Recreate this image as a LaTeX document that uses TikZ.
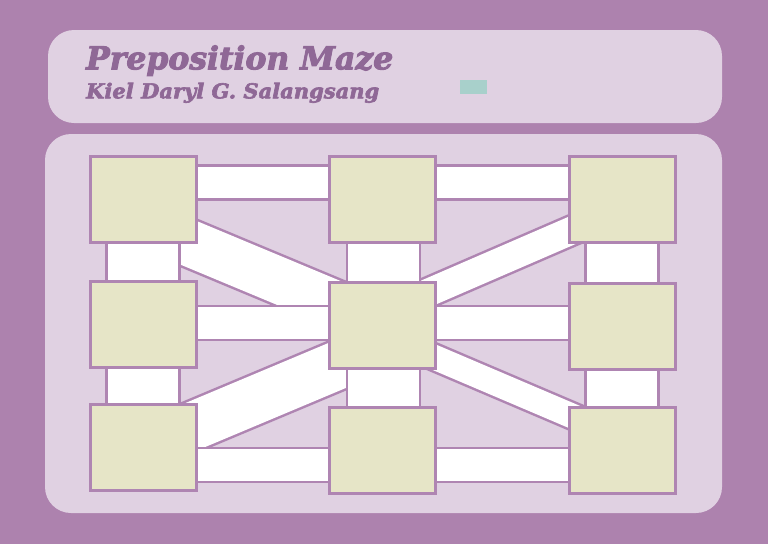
\documentclass[tikz,border=0pt]{standalone}
\usepackage{fontspec}
\usepackage{graphicx}
\newfontfamily\titlefont{DejaVu Serif}[BoldItalicFeatures={FakeBold=3}]
\definecolor{bgpurple}{HTML}{AD82AE}
\definecolor{panelc}{HTML}{E0D1E2}
\definecolor{boxfill}{HTML}{E6E5C7}
\definecolor{edgec}{HTML}{AF85B2}
\definecolor{textc}{HTML}{8F6896}
\definecolor{tealc}{HTML}{A8D0CB}
\pgfdeclarelayer{bglayer}
\pgfdeclarelayer{panellayer}
\pgfdeclarelayer{barlayer}
\pgfsetlayers{bglayer,panellayer,barlayer,main}
\tikzset{
  cell/.style={draw=edgec, fill=boxfill, line width=3pt, minimum width=106pt, minimum height=86pt, inner sep=0pt},
  bar/.style={draw=edgec, line width=2.5pt, double=white},
  hbar/.style={bar, double distance=31.5pt},
  vbar/.style={bar, double distance=70.5pt},
  panelbox/.style={fill=panelc, rounded corners=26pt, draw=none},
}
\begin{document}
\begin{tikzpicture}[x=1pt,y=-1pt]
\begin{pgfonlayer}{bglayer}
\fill[bgpurple] (0,0) rectangle (768,544);
\end{pgfonlayer}
\useasboundingbox (0,0) rectangle (768,544);
\begin{pgfonlayer}{panellayer}
\fill[panelbox] (48,30) rectangle (722,123);
\fill[panelbox] (45,134) rectangle (722,513);
\end{pgfonlayer}
% title
\node[anchor=base west, inner sep=0pt, text=textc] (title) at (86,69.3)
  {\resizebox{307pt}{24pt}{\titlefont\bfseries\itshape Preposition Maze}};
\node[anchor=base west, inner sep=0pt, text=textc] (author) at (86,98.3)
  {\resizebox{293pt}{15.5pt}{\titlefont\bfseries\itshape Kiel Daryl G. Salangsang}};
\node[fill=tealc, minimum width=27pt, minimum height=13.7pt, inner sep=0pt, anchor=north west] (tag) at (460,80) {};
% cells
\node[cell] (lt) at (143,199.8) {};
\node[cell] (lm) at (143,324) {};
\node[cell] (lb) at (143,447) {};
\node[cell] (mt) at (382.8,199.7) {};
\node[cell] (mc) at (382.8,325.3) {};
\node[cell] (mb) at (382.8,450.3) {};
\node[cell] (rt) at (622.2,199.7) {};
\node[cell] (rm) at (622.2,326.7) {};
\node[cell] (rb) at (622.2,450.3) {};
\begin{pgfonlayer}{barlayer}
% diagonals
\draw[bar, double distance=46.5pt] ([yshift=-24pt]lt.center) -- ([yshift=1.5pt]mc.center);
\draw[bar, double distance=27.8pt] ([yshift=-9pt]rt.center) -- ([yshift=13pt]mc.center);
\draw[bar, double distance=48.2pt] (lb.center) -- ([yshift=-21pt]mc.center);
\draw[bar, double distance=24.7pt] ([yshift=-10pt]mc.center) -- ([yshift=13pt]rb.center);
% horizontal bars
\draw[hbar] ([yshift=17.5pt]lt.center) -- ([yshift=17.4pt]mt.center);
\draw[hbar] ([yshift=17.4pt]mt.center) -- ([yshift=17.4pt]rt.center);
\draw[hbar] ([yshift=1.2pt]lm.center) -- ([yshift=2.5pt]mc.center);
\draw[hbar] ([yshift=2.5pt]mc.center) -- ([yshift=3.9pt]rm.center);
\draw[hbar] ([yshift=-17.8pt]lb.center) -- ([yshift=-14.5pt]mb.center);
\draw[hbar] ([yshift=-14.5pt]mb.center) -- ([yshift=-14.5pt]rb.center);
% vertical bars
\draw[vbar] (lt.center) -- (lm.center);
\draw[vbar] (lm.center) -- (lb.center);
\draw[vbar] ([xshift=0.5pt]mt.center) -- ([xshift=0.5pt]mc.center);
\draw[vbar] ([xshift=0.5pt]mc.center) -- ([xshift=0.5pt]mb.center);
\draw[vbar] ([xshift=-0.4pt]rt.center) -- ([xshift=-0.4pt]rm.center);
\draw[vbar] ([xshift=-0.4pt]rm.center) -- ([xshift=-0.4pt]rb.center);
\end{pgfonlayer}
\end{tikzpicture}
\end{document}
